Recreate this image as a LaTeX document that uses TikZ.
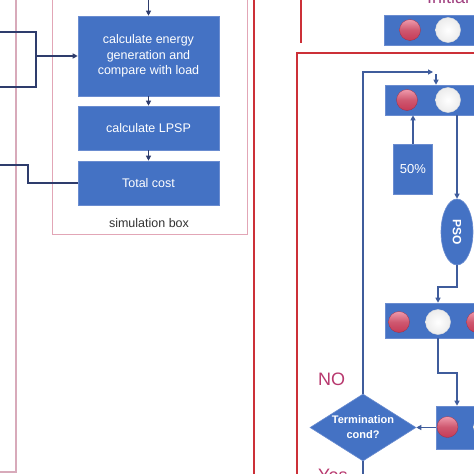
\documentclass[tikz,border=0pt]{standalone}
\usepackage{fontspec}
\usepackage{graphicx}
\setmainfont{Liberation Sans}
\usetikzlibrary{shapes.geometric,arrows.meta,calc}
\definecolor{boxblue}{HTML}{4472C4}
\definecolor{baredge}{HTML}{6A8CD0}
\definecolor{navyline}{HTML}{2E3C6C}
\definecolor{flowline}{HTML}{3F5C9C}
\definecolor{pinkline}{HTML}{D8AABA}
\definecolor{simpink}{HTML}{E2A6B6}
\definecolor{roughred}{HTML}{CC3038}
\definecolor{magtext}{HTML}{B8386E}
\definecolor{inittext}{HTML}{A04080}
\definecolor{ballred}{HTML}{C63A56}
\definecolor{ballpink}{HTML}{EE9AAC}
\tikzset{
  bluebox/.style={draw=baredge, line width=0.6pt, fill=boxblue, text=white, align=center,
    font=\fontsize{12.5}{15.5}\selectfont, inner sep=0pt},
  bar/.style={draw=baredge, line width=0.6pt, fill=boxblue, inner sep=0pt},
  redball/.style={circle, top color=ballpink, bottom color=ballred, middle color=ballred!85!white,
    draw=ballred!80!black, line width=0.3pt, minimum size=21pt, inner sep=0pt},
  whiteball/.style={circle, inner color=white, outer color=white!85!gray, draw=white!75!gray, line width=0.4pt,
    minimum size=25pt, inner sep=0pt},
  navyarrow/.style={draw=navyline, line width=1.1pt, -{Triangle[length=5pt,width=5pt]}},
  navyplain/.style={draw=navyline, line width=1.1pt},
  flowarrow/.style={draw=flowline, line width=1.1pt, -{Triangle[length=5pt,width=5pt]}},
  flowplain/.style={draw=flowline, line width=1.1pt},
  roughline/.style={draw=roughred, line width=2pt},
  magtxt/.style={text=magtext, font=\fontsize{18}{20}\selectfont, inner sep=0pt}
}
\begin{document}
\begin{tikzpicture}[x=1pt,y=-1pt]
\useasboundingbox (0,0) rectangle (474,474);
\clip (0,0) rectangle (474,474);
\fill[white] (0,0) rectangle (474,474);

% ---------- left part ----------
\draw[pinkline, line width=1.3pt] (16,-5) -- (16,472) -- (-5,472);
\draw[simpink, line width=1pt] (52,-5) rectangle (247,234);
\node[font=\fontsize{12.5}{15}\selectfont, text=black!80] (simlabel) at (149,223) {simulation box};

\node[bluebox, minimum width=141pt, minimum height=80pt] (calc) at (148.5,56)
  {calculate energy\\generation and\\compare with load};
\node[bluebox, minimum width=141pt, minimum height=44pt] (lpsp) at (148.5,128) {calculate LPSP};
\node[bluebox, minimum width=141pt, minimum height=44pt] (cost) at (148.5,183) {Total cost};

\coordinate (topin) at (148.5,-5);
\draw[navyarrow] (topin) -- (calc.north);
\draw[navyarrow] (calc.south) -- (lpsp.north);
\draw[navyarrow] (lpsp.south) -- (cost.north);

\coordinate (la) at (-5,32);
\coordinate (lb) at (-5,87);
\coordinate (lj) at (36,56);
\draw[navyplain] (la) -- (36,32) -- (36,87) -- (lb);
\draw[navyarrow] (lj) -- (lj -| calc.west);

\coordinate (lc) at (-5,165);
\draw[navyplain] (lc) -- (28,165) -- (28,183) -- (cost.west);

% ---------- right part: rough red frames ----------
\draw[roughline] (254,-5) -- (254,480);
\draw[roughline] (301,-5) -- (301,43);
\draw[roughline] (480,53) -- (297,53) -- (297,480);

\node[text=inittext, font=\fontsize{18}{20}\selectfont, inner sep=0pt, anchor=base west] (inittxt) at (427,3) {Initial};

% bar 1
\node[bar, minimum width=156pt, minimum height=30pt] (bar1) at (462,30) {};
\node[redball] (b1r) at (410,30) {};
\node[whiteball] (b1w) at (448,30) {};

% bar 2
\node[bar, minimum width=156pt, minimum height=30pt] (bar2) at (463,100) {};
\node[redball] (b2r) at (407,100) {};
\node[whiteball] (b2w) at (448,100) {};
\node[redball] (b2r2) at (487,100) {};

% 50% box
\node[bluebox, minimum width=39pt, minimum height=50pt, font=\fontsize{13}{15}\selectfont] (p50) at (413,169) {50\%};
\draw[flowarrow] (p50.north) -- (p50.north |- bar2.south);

% PSO
\node[ellipse, fill=boxblue, draw=baredge, line width=0.6pt, minimum width=32pt, minimum height=66pt,
  inner sep=0pt, text=white, font=\bfseries\fontsize{12}{14}\selectfont] (pso) at (457,232) {\rotatebox{-90}{PSO}};
\draw[flowarrow] (bar2.south -| pso) -- (pso.north);

% bar 3
\node[bar, minimum width=156pt, minimum height=35pt] (bar3) at (463,320.5) {};
\node[redball] (b3r) at (399,322) {};
\node[whiteball] (b3w) at (438,322) {};
\node[redball] (b3r2) at (477,322) {};
\coordinate (k3) at (438,287);
\draw[flowarrow] (pso.south) -- (pso.south |- k3) -- (k3) -- (k3 |- bar3.north);

% bar 4
\node[bar, minimum width=104pt, minimum height=43pt] (bar4) at (488,427.5) {};
\node[redball] (b4r) at (447.5,427) {};
\node[whiteball] (b4w) at (486,427) {};
\coordinate (k4) at (457,373);
\draw[flowarrow] (b3w |- bar3.south) -- (b3w |- k4) -- (k4) -- (k4 |- bar4.north);

% termination diamond
\node[diamond, aspect=1.58, fill=boxblue, draw=baredge, line width=0.6pt, minimum width=106pt, minimum height=67pt,
  inner sep=0pt, text=white, align=center, font=\bfseries\fontsize{11}{15}\selectfont] (dia) at (363,427.5) {Termination\\cond?};
\draw[flowarrow] (bar4.west) -- (dia.east);

% loop back
\coordinate (lp) at (433,72);
\coordinate (kd) at (436,74);
\draw[flowarrow] (dia.north) -- (dia.north |- lp) -- (lp);
\draw[flowarrow] (kd) -- (kd |- bar2.north);
\coordinate (yesend) at (363,480);
\draw[flowplain] (dia.south) -- (yesend);

\node[magtxt, anchor=base west] (notxt) at (318,385) {NO};
\node[magtxt, anchor=base west] (yestxt) at (318,481) {Yes};
\end{tikzpicture}
\end{document}
